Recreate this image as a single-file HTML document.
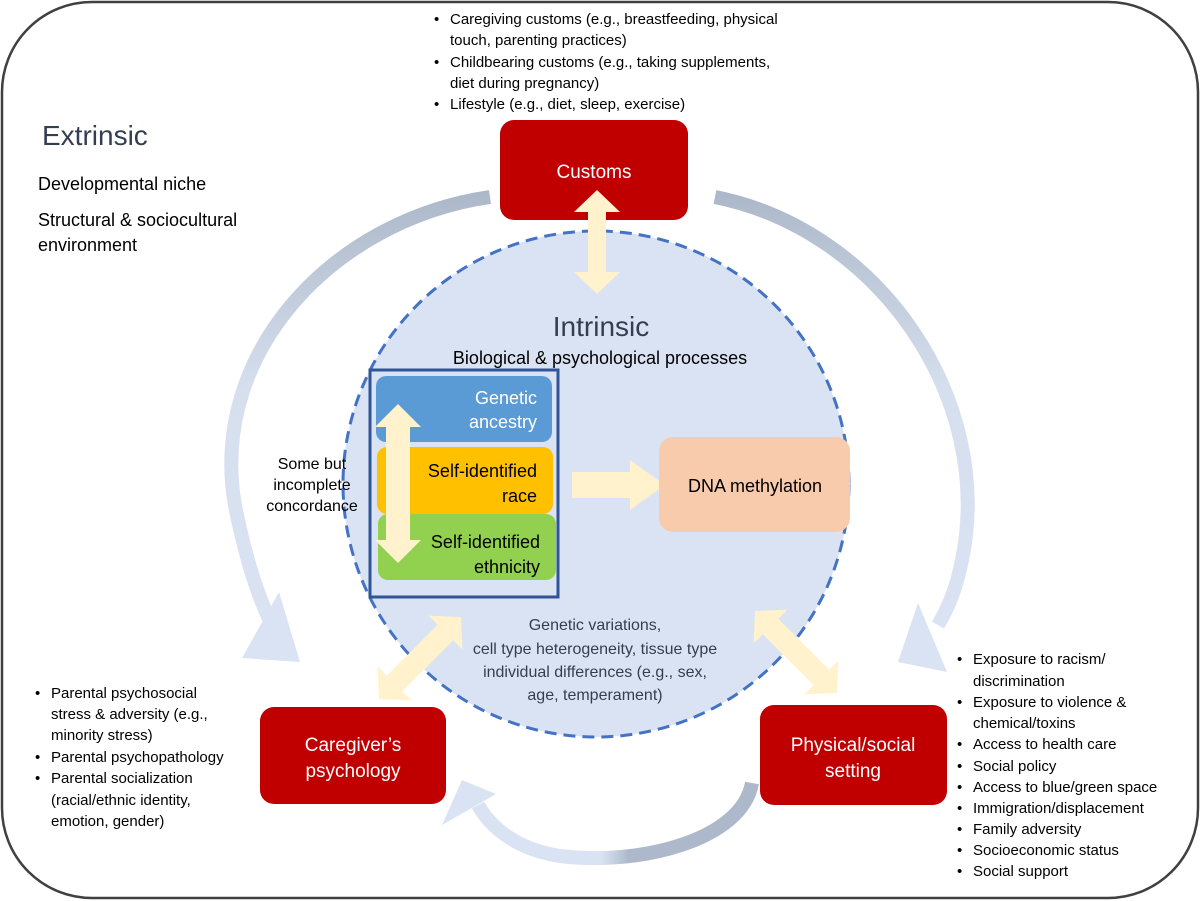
<!DOCTYPE html>
<html><head><meta charset="utf-8"><style>
html,body{margin:0;padding:0;background:#fff;}
svg{display:block;font-family:"Liberation Sans",Arial,sans-serif;}
</style></head><body>
<svg width="1200" height="901" viewBox="0 0 1200 901" xmlns="http://www.w3.org/2000/svg">
<defs>
<linearGradient id="gl" x1="0" y1="0" x2="0" y2="1" gradientUnits="objectBoundingBox"><stop offset="0" stop-color="#ADB9CA"/><stop offset="0.45" stop-color="#D6DFEE"/><stop offset="1" stop-color="#DAE3F3"/></linearGradient>
<linearGradient id="gb" x1="1" y1="0" x2="0" y2="0"><stop offset="0" stop-color="#ADB9CA"/><stop offset="0.45" stop-color="#ADB9CA"/><stop offset="0.55" stop-color="#DAE3F3"/><stop offset="1" stop-color="#DAE3F3"/></linearGradient>
</defs>
<rect x="2" y="2" width="1196" height="896" rx="90" fill="#fff" stroke="#404040" stroke-width="2.5"/>

<!-- curved arrows -->
<path d="M490,197 C330,220 200,360 238,520 C250,575 262,605 272,625" fill="none" stroke="url(#gl)" stroke-width="14"/>
<polygon points="279,592 300,662 242,658" fill="#DAE3F3"/>
<path d="M715,197 C880,230 995,400 962,560 C956,590 948,608 938,625" fill="none" stroke="url(#gl)" stroke-width="14"/>
<polygon points="918,603 898,662 947,672" fill="#DAE3F3"/>
<path d="M752,783 C742,840 640,866 560,856 C520,850 492,830 478,805" fill="none" stroke="url(#gb)" stroke-width="14"/>
<polygon points="462,780 496,794 442,825" fill="#DAE3F3"/>

<!-- intrinsic circle -->
<circle cx="596" cy="484" r="253" fill="#DAE3F3" stroke="#4472C4" stroke-width="3" stroke-dasharray="12,7"/>

<!-- red boxes -->
<rect x="500" y="120" width="188" height="100" rx="14" fill="#C00000"/>
<text x="594" y="178" font-size="19" fill="#fff" text-anchor="middle">Customs</text>
<rect x="260" y="707" width="186" height="97" rx="14" fill="#C00000"/>
<text x="353" y="751" font-size="19" fill="#fff" text-anchor="middle">Caregiver’s</text>
<text x="353" y="777" font-size="19" fill="#fff" text-anchor="middle">psychology</text>
<rect x="760" y="705" width="187" height="100" rx="14" fill="#C00000"/>
<text x="853" y="751" font-size="19" fill="#fff" text-anchor="middle">Physical/social</text>
<text x="853" y="777" font-size="19" fill="#fff" text-anchor="middle">setting</text>

<!-- cream arrows -->
<polygon points="597,190 620,212 606,212 606,272 620,272 597,294 574,272 588,272 588,212 574,212" fill="#FFF2CC"/>
<polygon points="572,472 630,472 630,460 665,485 630,510 630,498 572,498" fill="#FFF2CC"/>
<g transform="translate(420,658) rotate(-45)"><polygon points="-58,0 -36,-24 -36,-11 36,-11 36,-24 58,0 36,24 36,11 -36,11 -36,24" fill="#FFF2CC"/></g>
<g transform="translate(796,652) rotate(45)"><polygon points="-58,0 -36,-24 -36,-11 36,-11 36,-24 58,0 36,24 36,11 -36,11 -36,24" fill="#FFF2CC"/></g>

<!-- intrinsic texts -->
<text x="601" y="336" font-size="28" fill="#333F50" text-anchor="middle">Intrinsic</text>
<text x="600" y="364" font-size="18" fill="#000" text-anchor="middle">Biological &amp; psychological processes</text>

<rect x="370" y="370" width="188" height="227" fill="none" stroke="#2F5597" stroke-width="3"/>
<rect x="376" y="376" width="176" height="66" rx="10" fill="#5B9BD5"/>
<rect x="377" y="447" width="176" height="67" rx="10" fill="#FFC000"/>
<rect x="378" y="514" width="178" height="66" rx="10" fill="#92D050"/>
<text x="537" y="404" font-size="18" fill="#fff" text-anchor="end">Genetic</text>
<text x="537" y="428" font-size="18" fill="#fff" text-anchor="end">ancestry</text>
<text x="537" y="477" font-size="18" fill="#000" text-anchor="end">Self-identified</text>
<text x="537" y="502" font-size="18" fill="#000" text-anchor="end">race</text>
<text x="540" y="548" font-size="18" fill="#000" text-anchor="end">Self-identified</text>
<text x="540" y="573" font-size="18" fill="#000" text-anchor="end">ethnicity</text>
<polygon points="398,404 421,427 410,427 410,540 421,540 398,563 375,540 386,540 386,427 375,427" fill="#FFF2CC"/>

<text x="312" y="469" font-size="16" fill="#000" text-anchor="middle">Some but</text>
<text x="312" y="490" font-size="16" fill="#000" text-anchor="middle">incomplete</text>
<text x="312" y="511" font-size="16" fill="#000" text-anchor="middle">concordance</text>

<rect x="659" y="437" width="191" height="95" rx="14" fill="#F8CBAD"/>
<text x="755" y="492" font-size="18" fill="#000" text-anchor="middle">DNA methylation</text>

<g font-size="16" fill="#333F50" text-anchor="middle">
<text x="595" y="630">Genetic variations,</text>
<text x="595" y="654">cell type heterogeneity, tissue type</text>
<text x="595" y="677">individual differences (e.g., sex,</text>
<text x="595" y="700">age, temperament)</text>
</g>

<!-- extrinsic -->
<text x="42" y="145" font-size="28" fill="#333F50">Extrinsic</text>
<text x="38" y="190" font-size="18" fill="#000">Developmental niche</text>
<text x="38" y="226" font-size="18" fill="#000">Structural &amp; sociocultural</text>
<text x="38" y="251" font-size="18" fill="#000">environment</text>

<!-- customs bullets -->
<g font-size="15" fill="#000">
<text x="434" y="24">•</text><text x="450" y="24">Caregiving customs (e.g., breastfeeding, physical</text>
<text x="450" y="45">touch, parenting practices)</text>
<text x="434" y="67">•</text><text x="450" y="67">Childbearing customs (e.g., taking supplements,</text>
<text x="450" y="88">diet during pregnancy)</text>
<text x="434" y="109">•</text><text x="450" y="109">Lifestyle (e.g., diet, sleep, exercise)</text>
</g>

<!-- caregiver bullets -->
<g font-size="15" fill="#000">
<text x="35" y="698">•</text><text x="51" y="698">Parental psychosocial</text>
<text x="51" y="719">stress &amp; adversity (e.g.,</text>
<text x="51" y="740">minority stress)</text>
<text x="35" y="762">•</text><text x="51" y="762">Parental psychopathology</text>
<text x="35" y="783">•</text><text x="51" y="783">Parental socialization</text>
<text x="51" y="805">(racial/ethnic identity,</text>
<text x="51" y="826">emotion, gender)</text>
</g>

<!-- physical bullets -->
<g font-size="15" fill="#000">
<text x="957" y="664">•</text><text x="973" y="664">Exposure to racism/</text>
<text x="973" y="686">discrimination</text>
<text x="957" y="707">•</text><text x="973" y="707">Exposure to violence &amp;</text>
<text x="973" y="728">chemical/toxins</text>
<text x="957" y="749">•</text><text x="973" y="749">Access to health care</text>
<text x="957" y="771">•</text><text x="973" y="771">Social policy</text>
<text x="957" y="792">•</text><text x="973" y="792">Access to blue/green space</text>
<text x="957" y="813">•</text><text x="973" y="813">Immigration/displacement</text>
<text x="957" y="834">•</text><text x="973" y="834">Family adversity</text>
<text x="957" y="855">•</text><text x="973" y="855">Socioeconomic status</text>
<text x="957" y="876">•</text><text x="973" y="876">Social support</text>
</g>
</svg>
</body></html>
